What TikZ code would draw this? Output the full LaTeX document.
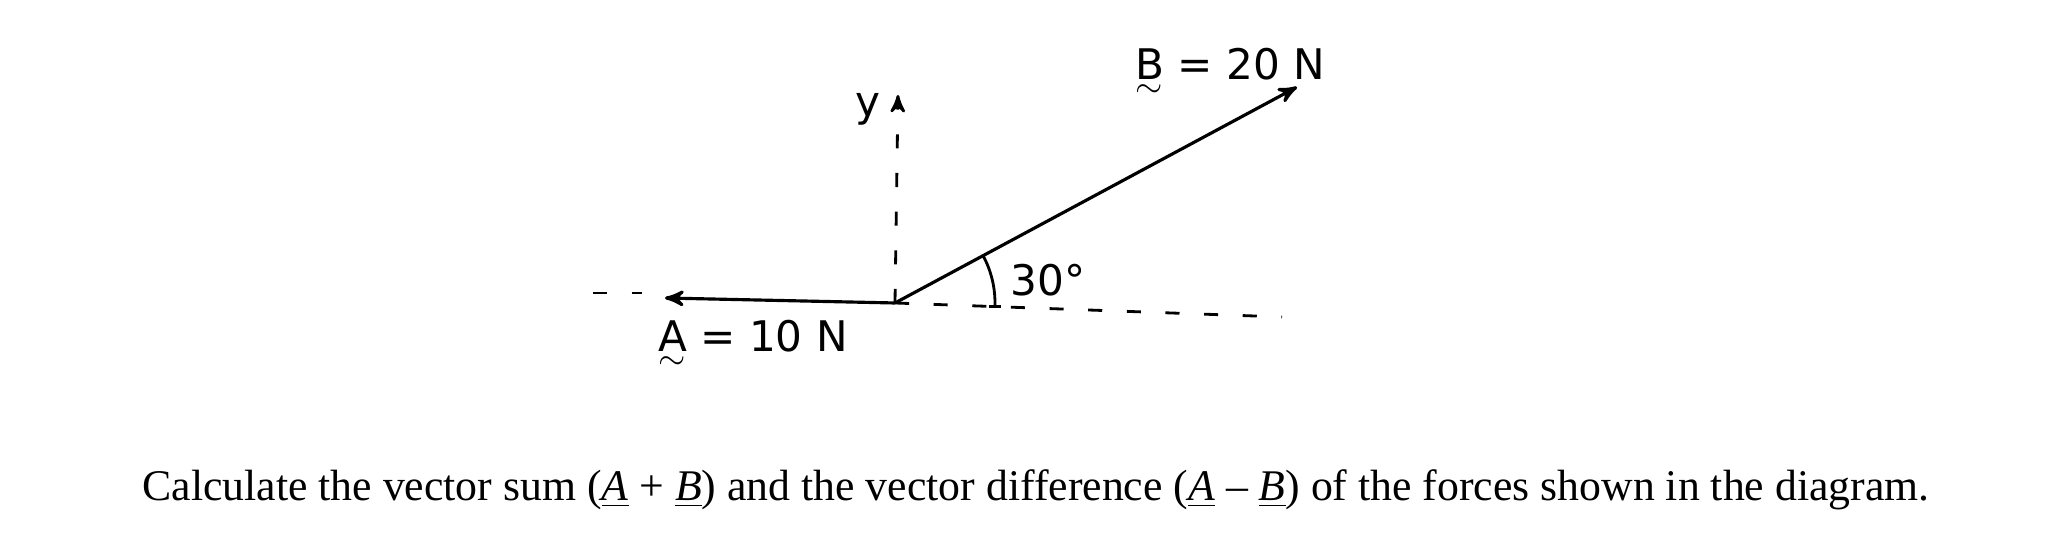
\documentclass[tikz,border=0pt]{standalone}
\usepackage{fontspec}
\setmainfont{Liberation Serif}
\setsansfont{DejaVu Sans}
\usetikzlibrary{arrows}
\usetikzlibrary{calc}

\newcommand{\wavy}[1]{\ooalign{#1\cr\hidewidth\raisebox{-5pt}{\normalsize$\sim$}\hidewidth\cr}}

\tikzset{
  vec/.style={black, line width=.9pt, ->, >=stealth'},
  guide/.style={black, line width=.8pt, dash pattern=on 4pt off 7pt},
  hand/.style={font=\sffamily\large}
}

\begin{document}
\begin{tikzpicture}
\useasboundingbox (0,0) rectangle (20.48,5.49);
\coordinate (O) at (8.95,2.46);
\coordinate (Atip) at (6.65,2.51);
\coordinate (Btip) at (12.97,4.62);
\coordinate (ytip) at (8.98,4.54);
\coordinate (xend) at (12.82,2.32);
\coordinate (xleftA) at (5.93,2.56);
\coordinate (xleftB) at (6.42,2.56);
% dashed guides
\draw[guide] (xleftA) -- (xleftB);
\draw[guide] (O) -- (xend);
\draw[guide, ->, >=stealth'] (O) -- (ytip);
\node[hand] (ylab) at (8.68,4.40) {y};
% forces
\draw[vec] (O) -- (Atip);
\draw[vec] (O) -- (Btip);
\node[hand, anchor=base] (Alab) at (7.53,1.97) {\wavy{A} = 10 N};
\node[hand, anchor=base] (Blab) at (12.30,4.69) {\wavy{B} = 20 N};
% angle
\draw[black, line width=.8pt] ($(O)+(-2:1.0)$) arc (-2:28:1.0);
\draw[black, line width=.8pt] ($(O)+(-2:1.0)+(-.06,0)$) -- ++(.12,0);
\node[hand] (ang) at (10.48,2.69) {30\textdegree};
% question
\node[font=\fontsize{12.45}{15}\selectfont] (question) at (10.36,0.59)
  {Calculate the vector sum (\underline{\textit{A}} + \underline{\textit{B}}) and the vector difference (\underline{\textit{A}} – \underline{\textit{B}}) of the forces shown in the diagram.};
\end{tikzpicture}
\end{document}
